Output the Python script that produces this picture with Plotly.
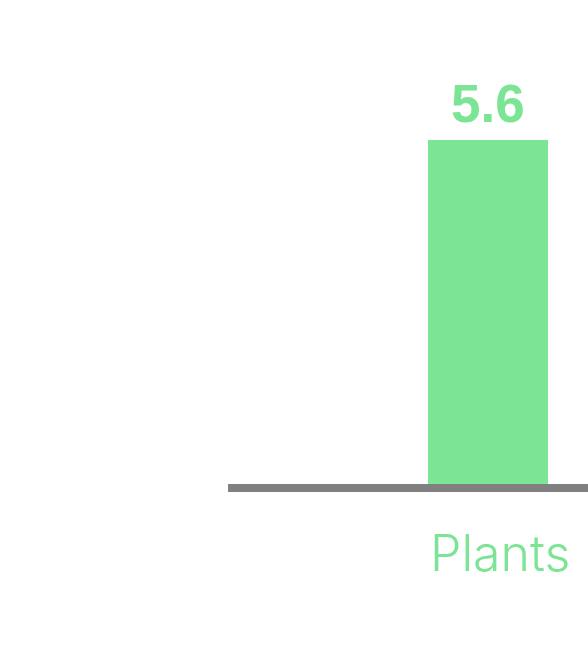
import plotly.graph_objects as go

categories = ["Plants"]
values = [5.6]
value_labels = ["5.6"]

GREEN = "#7BE495"
GRAY = "#808080"

fig = go.Figure()
fig.add_trace(go.Bar(
    x=categories, y=values, width=1,
    marker=dict(color=GREEN, line=dict(width=0)),
    hoverinfo="skip",
))

for c, v, t in zip(categories, values, value_labels):
    fig.add_annotation(
        x=c, y=v, xref="x", yref="y", text=f"<b>{t}</b>", showarrow=False,
        yanchor="bottom", xanchor="center", yshift=5,
        font=dict(family="Liberation Sans, Arial, sans-serif", size=53, color=GREEN),
    )
    fig.add_annotation(
        x=-0.5, y=0, xref="x", yref="y", text=c, showarrow=False,
        yanchor="top", xanchor="left", yshift=-37, xshift=0,
        font=dict(family="Inter, Roboto, sans-serif", size=50, color=GREEN, weight=300),
    )

fig.update_layout(
    width=588, height=652,
    margin=dict(l=228, r=0, t=60, b=168),
    paper_bgcolor="white", plot_bgcolor="white",
    showlegend=False,
    xaxis=dict(type="category", range=[-2.1667, 0.8333], showticklabels=False,
               showgrid=False, zeroline=False, showline=True, linecolor=GRAY,
               linewidth=8, ticks=""),
    yaxis=dict(range=[0, 6.902], visible=False, showgrid=False, zeroline=False),
)

fig.write_html("out.html", config={"displayModeBar": False},
               post_script="document.body.style.margin='0';")
